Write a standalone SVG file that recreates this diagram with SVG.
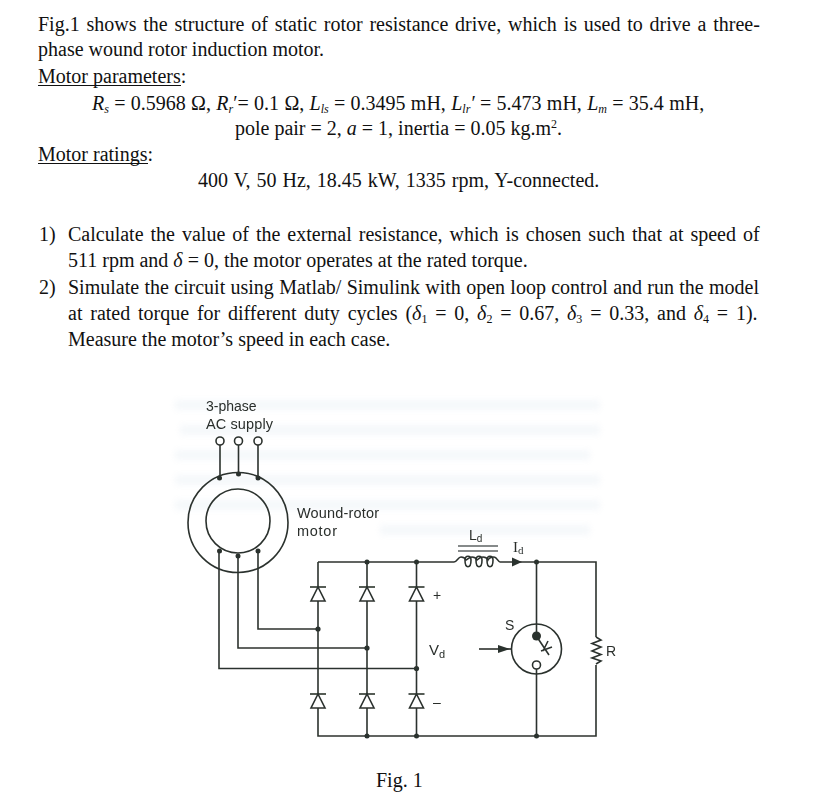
<svg xmlns="http://www.w3.org/2000/svg" width="831" height="808" viewBox="0 0 831 808">
<style>
.t{font-family:"Liberation Serif","Times New Roman",serif;font-size:20px;fill:#111}
.i{font-style:italic}
.s{font-size:12px}
.l{font-family:"Liberation Sans",Arial,sans-serif;font-size:14.500px;fill:#2a2f2c}
.w{fill:none;stroke:#2c322e;stroke-width:1.6}
.d{fill:#2c322e;stroke:none}
.g{fill:#fff;stroke:#2c322e;stroke-width:1.6}
.u{stroke:#111;stroke-width:1.2}
</style>
<defs>
<filter id="b" x="-5%" y="-5%" width="110%" height="110%"><feGaussianBlur stdDeviation="0.45"/></filter>
<filter id="h" x="-10%" y="-10%" width="120%" height="120%"><feGaussianBlur stdDeviation="3"/></filter>
<g id="diode"><path class="g" d="M0 0L7 14H-7Z"/><path class="w" d="M-8 0H8"/></g>
</defs>
<rect width="831" height="808" fill="#fff"/>
<path d="M175 405H600M180 430H600M175 455H590M175 480H600M175 505H600M380 530H590" stroke="#e9f0f5" stroke-width="10" opacity="0.45" filter="url(#h)"/>

<g id="statement">
<text class="t" x="38" y="31" style="word-spacing:1.8px">Fig.1 shows the structure of static rotor resistance drive, which is used to drive a three-</text>
<text class="t" x="38" y="56">phase wound rotor induction motor.</text>
<text class="t" x="38" y="83">Motor parameters:</text>
<path class="u" d="M38 85.500H181"/>
<text class="t" x="92" y="109.500" style="word-spacing:.3px"><tspan class="i">R<tspan class="s" dy="3">s</tspan></tspan><tspan dy="-3"> = 0.5968 Ω, </tspan><tspan class="i">R<tspan class="s" dy="3">r</tspan></tspan><tspan dy="-3">′= 0.1 Ω, </tspan><tspan class="i">L<tspan class="s" dy="3">ls</tspan></tspan><tspan dy="-3"> = 0.3495 mH, </tspan><tspan class="i">L<tspan class="s" dy="3">lr</tspan></tspan><tspan dy="-3" class="i">′</tspan><tspan> = 5.473 mH, </tspan><tspan class="i">L<tspan class="s" dy="3">m</tspan></tspan><tspan dy="-3"> = 35.4 mH,</tspan></text>
<text class="t" x="235" y="135">pole pair = 2, <tspan class="i">a</tspan> = 1, inertia = 0.05 kg.m<tspan class="s" dy="-7">2</tspan><tspan dy="7">.</tspan></text>
<text class="t" x="38" y="161">Motor ratings:</text>
<path class="u" d="M38 163.500H148"/>
<text class="t" x="198" y="187" style="word-spacing:1px">400 V, 50 Hz, 18.45 kW, 1335 rpm, Y-connected.</text>
<text class="t" x="39" y="241">1)</text>
<text class="t" x="68" y="241" style="word-spacing:2px">Calculate the value of the external resistance, which is chosen such that at speed of</text>
<text class="t" x="68" y="267">511 rpm and <tspan class="i">δ</tspan> = 0, the motor operates at the rated torque.</text>
<text class="t" x="39" y="294">2)</text>
<text class="t" x="68" y="294" style="word-spacing:.3px">Simulate the circuit using Matlab/ Simulink with open loop control and run the model</text>
<text class="t" x="68" y="320" style="word-spacing:2.800px">at rated torque for different duty cycles (<tspan class="i">δ</tspan><tspan class="s" dy="3">1</tspan><tspan dy="-3"> = 0, </tspan><tspan class="i">δ</tspan><tspan class="s" dy="3">2</tspan><tspan dy="-3"> = 0.67, </tspan><tspan class="i">δ</tspan><tspan class="s" dy="3">3</tspan><tspan dy="-3"> = 0.33, and </tspan><tspan class="i">δ</tspan><tspan class="s" dy="3">4</tspan><tspan dy="-3"> = 1).</tspan></text>
<text class="t" x="68" y="346">Measure the motor’s speed in each case.</text>
<text class="t" x="376" y="787">Fig. 1</text>
</g>

<g filter="url(#b)">
<g id="connectors">
<path class="w" d="M220 445V478M238.500 445V474M258 445V478"/>
<path class="w" d="M219 551V668.500H416.500M238 556V648H367M258 551V629H318"/>
<path class="w" d="M318 562V736H596V665M596 637V562H500c-2 0-3-5-6-5c-4 0-5 1-6 3c-1-2-3-3-5-3c-3 0-5 2-6 3c-1-2-3-3-5-3c-3 0-4 2-6 3c-1-2-3-3-5-3c-3 0-4 5-7 5H318"/>
<path class="w" d="M367 562V736M416.500 562V736"/>
<path class="w" d="M465 560c0 9 6 9 6 0c0-5-6-5-6 0M476 560c0 9 6 9 6 0c0-5-6-5-6 0M487 560c0 9 6 9 6 0c0-5-6-5-6 0" stroke-width="1.400"/>
<path class="w" d="M458 546H498M458 551H498" stroke-width="1.100" opacity="0.75"/>
<path class="d" d="M522 562L512 557.500V566.500Z"/>
<path class="w" stroke-width="1.200" d="M479 649H511"/>
<path class="d" d="M510 649L498 645V653Z"/>
</g>
<g id="supply">
<circle class="g" cx="220" cy="441" r="4"/><circle class="g" cx="238.500" cy="441" r="4"/><circle class="g" cx="258" cy="441" r="4"/>
<text class="l" x="206" y="411" style="font-size:14px">3-phase</text>
<text class="l" x="206" y="429" textLength="67">AC supply</text>
</g>
<g id="motor">
<circle cx="238" cy="522.500" r="50" fill="none" stroke="#2c322e" stroke-width="1.600"/>
<circle cx="238" cy="521" r="32" fill="none" stroke="#2c322e" stroke-width="1.600"/>
<circle class="d" cx="219.500" cy="478" r="2.500"/><circle class="d" cx="238.500" cy="474" r="2.500"/><circle class="d" cx="258" cy="478" r="2.500"/>
<circle class="d" cx="219.500" cy="551" r="2.500"/><circle class="d" cx="238" cy="556" r="2.500"/><circle class="d" cx="258" cy="551" r="2.500"/>
<text class="l" x="297" y="518" textLength="82">Wound-rotor</text>
<text class="l" x="297" y="536" textLength="40">motor</text>
</g>
<g id="rectifier">
<use href="#diode" x="318" y="587"/><use href="#diode" x="367" y="587"/><use href="#diode" x="416.500" y="587"/>
<use href="#diode" x="318" y="694"/><use href="#diode" x="367" y="694"/><use href="#diode" x="416.500" y="694"/>
<circle class="d" cx="318" cy="629" r="2.600"/><circle class="d" cx="367" cy="648" r="2.600"/><circle class="d" cx="416.500" cy="668.500" r="2.600"/>
<circle class="d" cx="367" cy="562" r="2.500"/><circle class="d" cx="416.500" cy="562" r="2.500"/><circle class="d" cx="367" cy="736" r="2.500"/><circle class="d" cx="416.500" cy="736" r="2.500"/>
<text class="l" x="433" y="600" style="font-size:14px">+</text>
<text class="l" x="429" y="655" style="font-size:15px">V<tspan style="font-size:11px" dy="3">d</tspan></text>
<text class="l" x="433" y="707" style="font-size:14px">–</text>
</g>
<g id="inductor">
<text class="l" x="469" y="540" style="font-size:14px">L<tspan style="font-size:10px" dy="2">d</tspan></text>
<text x="513" y="552" style="font-family:'Liberation Serif',serif;font-size:15px;fill:#2a2f2c">I<tspan style="font-size:11px" dy="2">d</tspan></text>
</g>
<g id="switch">
<circle class="g" cx="536.500" cy="649" r="25"/>
<path class="w" d="M536.500 562V636M536.500 669V736"/>
<circle class="d" cx="536.500" cy="636" r="4.500"/>
<circle class="g" cx="536.500" cy="665" r="4"/>
<path class="w" stroke-width="2.400" d="M537 637L549 655M548 641L543 651M552 647L541 651"/>
<text class="l" x="505" y="630" style="font-size:14px">S</text>
<circle class="d" cx="536.500" cy="562" r="2.500"/>
<circle class="d" cx="536.500" cy="736" r="2.500"/>
</g>
<g id="resistor">
<path class="w" d="M596 637L601 640L592 643.500L601 647L592 651L601 654.500L592 658L601 661L596 664"/>
<text class="l" x="606" y="656" style="font-size:14px">R</text>
</g>
</g>
</svg>
